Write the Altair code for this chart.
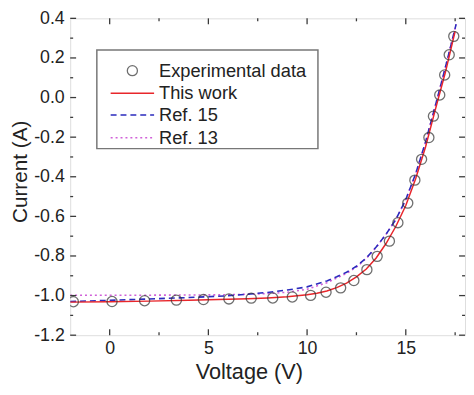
import altair as alt
import pandas as pd

# ---------------- data ----------------
exp_v = [-1.84, 0.12, 1.77, 3.38, 4.75, 6.04, 7.17, 8.26, 9.25, 10.18, 10.96, 11.7,
         12.37, 13.03, 13.55, 14.17, 14.6, 15.1, 15.46, 15.8, 16.17, 16.4, 16.72,
         16.97, 17.2, 17.43]
exp_i = [-1.031, -1.030, -1.026, -1.023, -1.020, -1.017, -1.013, -1.012, -1.007,
         -0.999, -0.983, -0.961, -0.924, -0.869, -0.802, -0.725, -0.632, -0.533,
         -0.417, -0.312, -0.202, -0.094, 0.013, 0.114, 0.216, 0.309]

fit_v = [-2, 0, 2, 4, 6, 7, 8, 9, 10, 10.5, 11, 11.5, 12, 12.5, 13, 13.5, 14, 14.5,
         15, 15.5, 16, 16.5, 17, 17.5]
fit_i = [-1.033, -1.031, -1.028, -1.024, -1.019, -1.016, -1.012, -1.006, -0.996,
         -0.988, -0.977, -0.960, -0.937, -0.905, -0.866, -0.810, -0.737, -0.650,
         -0.545, -0.410, -0.250, -0.060, 0.125, 0.335]

ref15_v = [-2, 0, 2, 4, 6, 7, 8, 9, 10, 11, 11.5, 12, 12.5, 13, 13.5, 14, 14.5, 15,
           15.5, 16, 16.5, 17, 17.55]
ref15_i = [-1.030, -1.024, -1.017, -1.010, -1.001, -0.993, -0.984, -0.972, -0.956,
           -0.926, -0.905, -0.882, -0.852, -0.810, -0.755, -0.690, -0.615, -0.515,
           -0.385, -0.225, -0.040, 0.150, 0.370]

ref13_v = [-2, 0, 2, 4, 6, 8, 9, 10, 11, 12, 12.5, 13, 13.5, 14, 14.5, 15, 15.5, 16,
           16.5, 17, 17.55]
ref13_i = [-0.998, -0.998, -0.998, -0.997, -0.996, -0.990, -0.983, -0.968, -0.935,
           -0.888, -0.856, -0.812, -0.757, -0.690, -0.615, -0.515, -0.385, -0.225,
           -0.040, 0.150, 0.370]

series_names = ["Experimental data", "This work", "Ref. 15", "Ref. 13"]

x_major = [0, 5, 10, 15]
x_minor = [2.5, 7.5, 12.5, 17.5]
y_major = [-1.2, -1.0, -0.8, -0.6, -0.4, -0.2, 0.0, 0.2, 0.4]
y_minor = [-1.1, -0.9, -0.7, -0.5, -0.3, -0.1, 0.1, 0.3]

# ---------------- styling ----------------
W, H = 400, 321
FONT = "Liberation Sans"
AX = "#3a3a3a"
RED = "#e8262b"
BLUE = "#2b2bbd"
MAG = "#d060d8"
CIRC = "#333333"

xs = alt.Scale(domain=[-2, 18], nice=False, zero=False)
ys = alt.Scale(domain=[-1.2, 0.4], nice=False, zero=False)

x_axis = alt.Axis(values=x_major, format="d", ticks=False, domain=False, grid=False,
                  labelFont=FONT, labelFontSize=18, labelColor="#222", labelPadding=5,
                  title="Voltage (V)", titleFont=FONT, titleFontSize=22,
                  titleFontWeight="normal", titleColor="#222",
                  titleX=181, titleY=44, titleBaseline="alphabetic", titleAlign="center")
y_axis = alt.Axis(values=y_major, ticks=False, domain=False, grid=False,
                  labelExpr="replace(format(datum.value, '.1f'), '\u2212', '-')",
                  labelFont=FONT, labelFontSize=18, labelColor="#222", labelPadding=6,
                  title="Current (A)", titleFont=FONT, titleFontSize=21,
                  titleFontWeight="normal", titleColor="#222", titlePadding=3,
                  titleY=155, titleAlign="center")

def xenc():
    return alt.X("V:Q", scale=xs, axis=x_axis)

def yenc():
    return alt.Y("I:Q", scale=ys, axis=y_axis)

exp_df = pd.DataFrame({"V": exp_v, "I": exp_i})
fit_df = pd.DataFrame({"V": fit_v, "I": fit_i})
r15_df = pd.DataFrame({"V": ref15_v, "I": ref15_i})
r13_df = pd.DataFrame({"V": ref13_v, "I": ref13_i})

ref13 = alt.Chart(r13_df).mark_line(color=MAG, strokeWidth=1.6, strokeDash=[2, 3],
                                     clip=True).encode(x=xenc(), y=yenc())
ref15 = alt.Chart(r15_df).mark_line(color=BLUE, strokeWidth=1.6, strokeDash=[6, 4],
                                     clip=True).encode(x=xenc(), y=yenc())
fit = alt.Chart(fit_df).mark_line(color=RED, strokeWidth=1.5,
                                   clip=True).encode(x=xenc(), y=yenc())
pts = alt.Chart(exp_df).mark_point(shape="circle", filled=False, size=105,
                                    stroke=CIRC, strokeWidth=1.3, clip=True).encode(
    x=xenc(), y=yenc())

# ---------------- inward ticks on all four sides ----------------
def yticks(vals, length):
    d = pd.DataFrame({"I": vals})
    left = alt.Chart(d).mark_rule(color=AX, strokeWidth=1.3).encode(
        y=yenc(), x=alt.value(0), x2=alt.value(length))
    right = alt.Chart(d).mark_rule(color=AX, strokeWidth=1.3).encode(
        y=yenc(), x=alt.value(W - length), x2=alt.value(W))
    return [left, right]

def xticks(vals, length):
    d = pd.DataFrame({"V": vals})
    bottom = alt.Chart(d).mark_rule(color=AX, strokeWidth=1.3).encode(
        x=xenc(), y=alt.value(H - length), y2=alt.value(H))
    top = alt.Chart(d).mark_rule(color=AX, strokeWidth=1.3).encode(
        x=xenc(), y=alt.value(0), y2=alt.value(length))
    return [bottom, top]

tick_layers = yticks(y_major, 6) + yticks(y_minor, 3) + xticks(x_major, 6) + xticks(x_minor, 3)

# ---------------- legend box ----------------
one = alt.Data(values=[{"a": 1}])
LX0, LX1, LY0, LY1 = 27, 251, 32, 132
row_y = [53, 76, 98, 121]
sym_x0, sym_x1, txt_x = 41, 85, 90

legend_layers = [
    alt.Chart(one).mark_rect(fill="white", stroke="#777", strokeWidth=1.5).encode(
        x=alt.value(LX0), x2=alt.value(LX1), y=alt.value(LY0), y2=alt.value(LY1)),
    alt.Chart(one).mark_point(shape="circle", filled=False, size=105, stroke=CIRC,
                              strokeWidth=1.3).encode(
        x=alt.value((sym_x0 + sym_x1) / 2), y=alt.value(row_y[0])),
    alt.Chart(one).mark_rule(color=RED, strokeWidth=1.5).encode(
        x=alt.value(sym_x0), x2=alt.value(sym_x1), y=alt.value(row_y[1])),
    alt.Chart(one).mark_rule(color=BLUE, strokeWidth=1.6, strokeDash=[6, 4]).encode(
        x=alt.value(sym_x0), x2=alt.value(sym_x1), y=alt.value(row_y[2])),
    alt.Chart(one).mark_rule(color=MAG, strokeWidth=1.6, strokeDash=[2, 3]).encode(
        x=alt.value(sym_x0), x2=alt.value(sym_x1), y=alt.value(row_y[3])),
]
for name, yy in zip(series_names, row_y):
    legend_layers.append(
        alt.Chart(one).mark_text(align="left", baseline="middle", font=FONT,
                                 fontSize=18.5, color="#222").encode(
            x=alt.value(txt_x), y=alt.value(yy), text=alt.value(name)))

chart = alt.layer(ref13, ref15, fit, pts, *tick_layers, *legend_layers).properties(
    width=W, height=H,
    autosize=alt.AutoSizeParams(type="none"),
    padding={"left": 63, "top": 8, "right": 1, "bottom": 49},
).configure_view(stroke=AX, strokeWidth=1.6).configure(background="white")

chart.save("out.html", embed_options={"renderer": "svg", "actions": False})
